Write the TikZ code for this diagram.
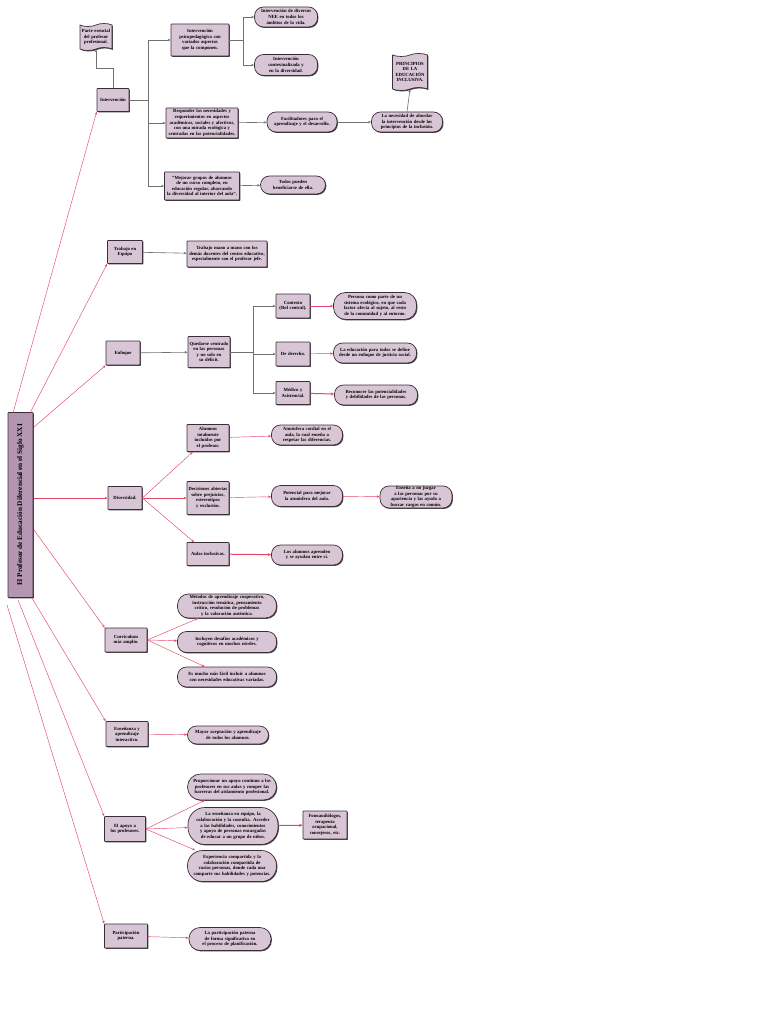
\documentclass[tikz,border=0pt]{standalone}
\usepackage{fontspec}
\setmainfont{Liberation Serif}
\usetikzlibrary{shapes.misc,shapes.symbols,arrows.meta,shadows,calc}
\definecolor{boxfill}{HTML}{D8C5D6}
\definecolor{titlefill}{HTML}{B596B2}
\definecolor{redline}{HTML}{E5476A}
\definecolor{grayline}{HTML}{707070}
\definecolor{edgecol}{HTML}{3A2E38}
\hyphenpenalty=10000
\exhyphenpenalty=10000
\tikzset{
 base/.style={fill=boxfill, draw=edgecol, line width=0.7pt, align=center, inner sep=0.3pt,
   font=\fontsize{4.7}{5.6}\selectfont\bfseries,
   drop shadow={shadow xshift=0.9pt, shadow yshift=-0.9pt, fill=black!75, opacity=1}},
 box/.style={base, rectangle, rounded corners=0.6pt},
 pill/.style={base, rectangle, rounded corners=#1},
 pill/.default=9pt,
 flagbox/.style={base, tape, tape bend height=3pt},
 rline/.style={draw=redline, line width=0.45pt, -{Stealth[length=3pt,width=2.4pt]}},
 rthick/.style={draw=redline, line width=1pt, -{Stealth[length=3.5pt,width=3pt]}},
 gline/.style={draw=grayline, line width=0.6pt},
 garrow/.style={gline, -{Stealth[length=3pt,width=2.4pt]}},
}
\begin{document}
\begin{tikzpicture}[x=1pt,y=-1pt]
\useasboundingbox[fill=white] (0,0) rectangle (768,1024);

% title
\node[box, fill=titlefill, rotate=90, minimum width=185, minimum height=25, font=\fontsize{7.2}{8}\selectfont\bfseries] (title) at (20.5,505) {El Profesor de Educación Diferencial en el Siglo XXI};

% ---------- Intervención ----------
\node[flagbox, minimum width=32, minimum height=27, text width=31] (flag1) at (96,37) {Parte esencial\\del profesor\\profesional.};
\node[box, minimum width=32, minimum height=23] (interv) at (113,100) {Intervención};
\node[box, minimum width=58, minimum height=32, text width=55] (A) at (200,40) {Intervención psicopedagógica con variados aspectos que la componen.};
\node[pill, minimum width=63, minimum height=20, text width=58] (A1) at (286,17) {Intervención de diversos NEE en todos los ámbitos de la vida.};
\node[pill, minimum width=63, minimum height=21, text width=56] (A2) at (286,65) {Intervención contextualizada y en la diversidad.};
\node[box, minimum width=72, minimum height=30, text width=71] (B) at (202,123) {Responder las necesidades y requerimientos en aspectos académicos, sociales y afectivos, con una mirada ecológica y centradas en las potencialidades.};
\node[pill, minimum width=70, minimum height=20, text width=62] (B1) at (302,122) {Facilitadores para el aprendizaje y el desarrollo.};
\node[pill, minimum width=71, minimum height=20, text width=66] (B2) at (407,122) {La necesidad de abordar la intervención desde los principios de la inclusión.};
\node[flagbox, minimum width=35, minimum height=37, text width=34] (flag2) at (410,72) {PRINCIPIOS\\DE LA\\EDUCACIÓN\\INCLUSIVA.};
\node[box, minimum width=75, minimum height=28, text width=73] (C) at (202,186) {"Mejorar grupos de alumnos de un curso completo, en educación regular, abarcando la diversidad al interior del aula".};
\node[pill, minimum width=65, minimum height=18, text width=60] (C1) at (293,185) {Todos pueden beneficiarse de ella.};

\coordinate (k1) at (113,68);
\draw[garrow] (interv.north) -- (k1) -| (flag1.south);
\coordinate (bI) at (148,100);
\draw[gline] (interv.east) -- (bI);
\draw[garrow] (bI) |- (A.west);
\draw[garrow] (bI) |- (B.west);
\draw[garrow] (bI) |- (C.west);
\coordinate (bA) at (243,40);
\draw[gline] (A.east) -- (bA);
\draw[garrow] (bA) |- (A1.west);
\draw[garrow] (bA) |- (A2.west);
\draw[garrow] (B) -- (B1);
\draw[garrow] (B1) -- (B2);
\draw[garrow] (B2.north) -- (flag2.south);
\draw[garrow] (C) -- (C1);

% ---------- Trabajo en equipo / Enfoque ----------
\node[box, minimum width=35, minimum height=23, text width=33] (TE) at (125,252) {Trabajo en\\Equipo};
\node[box, minimum width=80, minimum height=26, text width=78] (TE1) at (227,254) {Trabajo mano a mano con los demás docentes del centro educativo, especialmente con el profesor jefe.};
\node[box, minimum width=34, minimum height=24] (EN) at (123,353) {Enfoque};
\node[box, minimum width=42, minimum height=31, text width=40] (Q) at (209,352) {Quedarse centrado en las personas y no solo en su déficit.};
\node[box, minimum width=34, minimum height=24, text width=33] (CX) at (293,306) {Contexto (Rol central).};
\node[box, minimum width=34, minimum height=24, text width=33] (DD) at (293,354) {De derecho.};
\node[box, minimum width=34, minimum height=23, text width=33] (MA) at (293,393) {Médico y\\Asistencial.};
\node[pill=12pt, minimum width=83, minimum height=27, text width=76] (CX1) at (375,306) {Persona como parte de un sistema ecológico, en que cada factor afecta al sujeto, al resto de la comunidad y al entorno.};
\node[pill, minimum width=83, minimum height=20, text width=78] (DD1) at (375,353) {La educación para todos se define desde un enfoque de justicia social.};
\node[pill, minimum width=83, minimum height=20, text width=74] (MA1) at (376,395) {Reconocer las potencialidades y debilidades de las personas.};

\draw[garrow] (TE) -- (TE1);
\draw[garrow] (EN) -- (Q);
\coordinate (bQ) at (253,352);
\draw[gline] (Q.east) -- (bQ);
\draw[garrow] (bQ) |- (CX.west);
\draw[garrow] (bQ) |- (DD.west);
\draw[garrow] (bQ) |- (MA.west);
\draw[rline] (CX) -- (CX1);
\draw[rline] (DD) -- (DD1);
\draw[rthick] (MA) -- (MA1);

% ---------- Diversidad ----------
\node[box, minimum width=34, minimum height=23] (DV) at (125,498) {Diversidad.};
\node[box, minimum width=42, minimum height=27, text width=40] (Da) at (208,438) {Alumnos totalmente incluidos por el profesor.};
\node[pill, minimum width=71, minimum height=20, text width=64] (Da1) at (307,435) {Atmósfera cordial en el aula, la cual enseña a respetar las diferencias.};
\node[box, minimum width=42, minimum height=33, text width=40] (Db) at (208,498) {Decisiones abiertas sobre prejuicios, estereotipos y exclusión.};
\node[pill, minimum width=71, minimum height=21, text width=62] (Db1) at (307,496) {Potencial para mejorar la atmósfera del aula.};
\node[pill, minimum width=72, minimum height=22, text width=66] (Db2) at (416,497) {Enseña a no juzgar a las personas por su apariencia y las ayuda a buscar rasgos en común.};
\node[box, minimum width=42, minimum height=23, text width=40] (Dc) at (208,554) {Aulas inclusivas.};
\node[pill, minimum width=71, minimum height=20, text width=62] (Dc1) at (307,555) {Los alumnos aprenden y se ayudan entre sí.};

\draw[rline] (DV.east) -- (Da);
\draw[rline] (DV.east) -- (Db);
\draw[rline] (DV.east) -- (Dc);
\draw[rline] (Da) -- (Da1);
\draw[rline] (Db) -- (Db1);
\draw[rline] (Db1) -- (Db2);
\draw[rthick] (Dc) -- (Dc1);

% ---------- Currículum ----------
\node[box, minimum width=42, minimum height=24, text width=40] (CU) at (126,640) {Currículum más amplio.};
\node[pill=11pt, minimum width=99, minimum height=24, text width=94] (CU1) at (227,606) {Métodos de aprendizaje cooperativo, instrucción temática, pensamiento crítico, resolución de problemas y la valoración auténtica.};
\node[pill, minimum width=99, minimum height=21, text width=92] (CU2) at (227,642) {Incluyen desafíos académicos y cognitivos en muchos niveles.};
\node[pill, minimum width=99, minimum height=20, text width=90] (CU3) at (227,677) {Es mucho más fácil incluir a alumnos con necesidades educativas variadas.};
\draw[rline] (CU.east) -- (CU1);
\draw[rline] (CU.east) -- (CU2);
\draw[rline] (CU.east) -- (CU3);

\node[box, minimum width=42, minimum height=25, text width=40] (EA) at (127,734) {Enseñanza y aprendizaje interactivo.};
\node[pill, minimum width=81, minimum height=18, text width=74] (EA1) at (228,735) {Mayor aceptación y aprendizaje de todos los alumnos.};
\draw[rline] (EA) -- (EA1);

% ---------- Apoyo ----------
\node[box, minimum width=41, minimum height=25, text width=39] (AP) at (125,829) {El apoyo a los profesores.};
\node[pill=13pt, minimum width=89, minimum height=26, text width=82] (AP1) at (232,787) {Proporcionar un apoyo continuo a los profesores en sus aulas y romper las barreras del aislamiento profesional.};
\node[pill=17pt, minimum width=90, minimum height=37, text width=86] (AP2) at (233,826) {La enseñanza en equipo, la colaboración y la consulta. Acceder a las habilidades, conocimientos y apoyo de personas encargadas de educar a un grupo de niños.};
\node[box, minimum width=44, minimum height=28, text width=42] (AP2a) at (325,825) {Fonoaudiólogos, terapeuta ocupacional, consejeros, etc.};
\node[pill=15pt, minimum width=89, minimum height=31, text width=78] (AP3) at (232,866) {Experiencia compartida y la colaboración compartida de varias personas, donde cada una comparte sus habilidades y potencias.};
\draw[rline] (AP.east) -- (AP1);
\draw[rline] (AP.east) -- (AP2);
\draw[rline] (AP.east) -- (AP3);
\draw[rthick] (AP2) -- (AP2a);

\node[box, minimum width=43, minimum height=24, text width=41] (PP) at (126,936) {Participación paterna.};
\node[pill=11pt, minimum width=82, minimum height=23, text width=72] (PP1) at (230,939) {La participación paterna de forma significativa en el proceso de planificación.};
\draw[rline] (PP) -- (PP1);

% ---------- connectors from title ----------
\coordinate (tI) at (13,413);
\coordinate (tT) at (30,413);
\coordinate (tE) at (34,427);
\coordinate (tD) at (33.5,498);
\coordinate (tC) at (34,530);
\coordinate (tA) at (32,598);
\coordinate (tP) at (18,600);
\coordinate (tQ) at (7,605);
\draw[rline] (tI) -- (interv.south west);
\draw[rline] (tT) -- (TE.south west);
\draw[rline] (tE) -- (EN.south west);
\draw[rline, line width=0.8pt] (tD) -- (DV.west);
\draw[rline] (tC) -- (CU.north west);
\draw[rline] (tA) -- (EA.north west);
\draw[rline] (tP) -- (AP.north west);
\draw[rline] (tQ) -- (PP.north west);
\end{tikzpicture}
\end{document}
